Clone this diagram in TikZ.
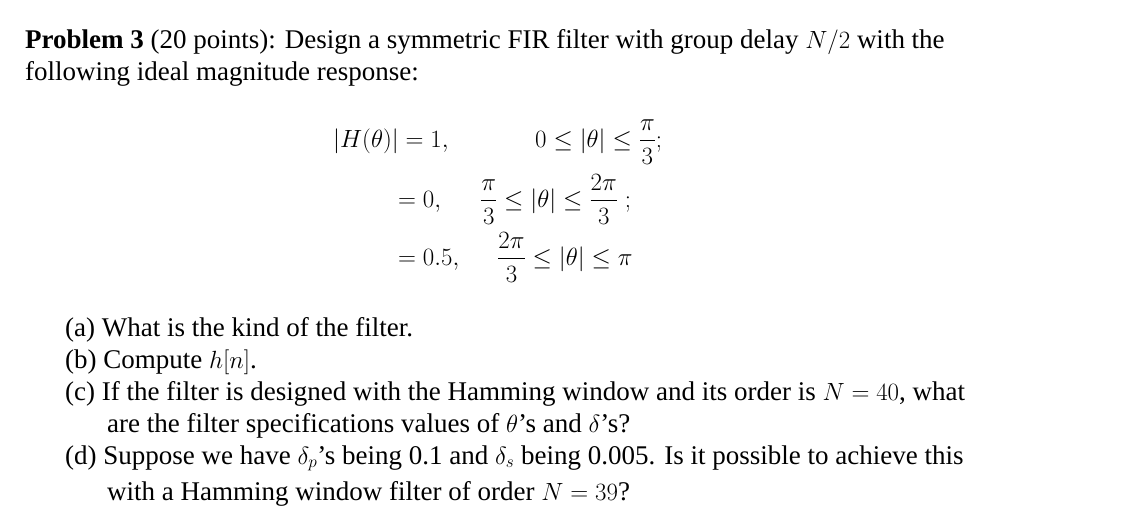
\documentclass[tikz,border=0pt]{standalone}
\usepackage{amsmath}
\usepackage{fontspec}
\setmainfont{Liberation Serif}
\begin{document}
\begin{tikzpicture}[x=1pt,y=-1pt,every node/.style={inner sep=0pt,anchor=base west,font=\fontsize{27}{32}\selectfont}]
\useasboundingbox (0,0) rectangle (1121,515);
\node (l1) at (25,48) {\textbf{Problem 3} (20 points): Design a symmetric FIR filter with group delay $N/2$ with the};
\node (l2) at (25,80) {following ideal magnitude response:};
\node (e1b) at (333,147) {$|H(\theta)|=1,$};
\node (e1c) at (535,147) {$0\le|\theta|\le\dfrac{\pi}{3};$};
\node (e2b) at (398,207) {$=0,$};
\node (e2c) at (480,207) {$\dfrac{\pi}{3}\le|\theta|\le\dfrac{2\pi}{3}\ ;$};
\node (e3b) at (398,265) {$=0.5,$};
\node (e3c) at (497,265) {$\dfrac{2\pi}{3}\le|\theta|\le\pi$};
\node (a) at (65,336) {(a)\ What is the kind of the filter.};
\node (b) at (65,368) {(b)\ Compute $h[n]$.};
\node (c) at (65,400) {(c)\ If the filter is designed with the Hamming window and its order is $N=40$, what};
\node (c2) at (107,432) {are the filter specifications values of $\theta$’s and $\delta$’s?};
\node (d) at (65,464) {(d)\ Suppose we have $\delta_p$’s being 0.1 and $\delta_s$ being 0.005. Is it possible to achieve this};
\node (d2) at (107,500) {with a Hamming window filter of order $N=39$?};
\end{tikzpicture}
\end{document}
